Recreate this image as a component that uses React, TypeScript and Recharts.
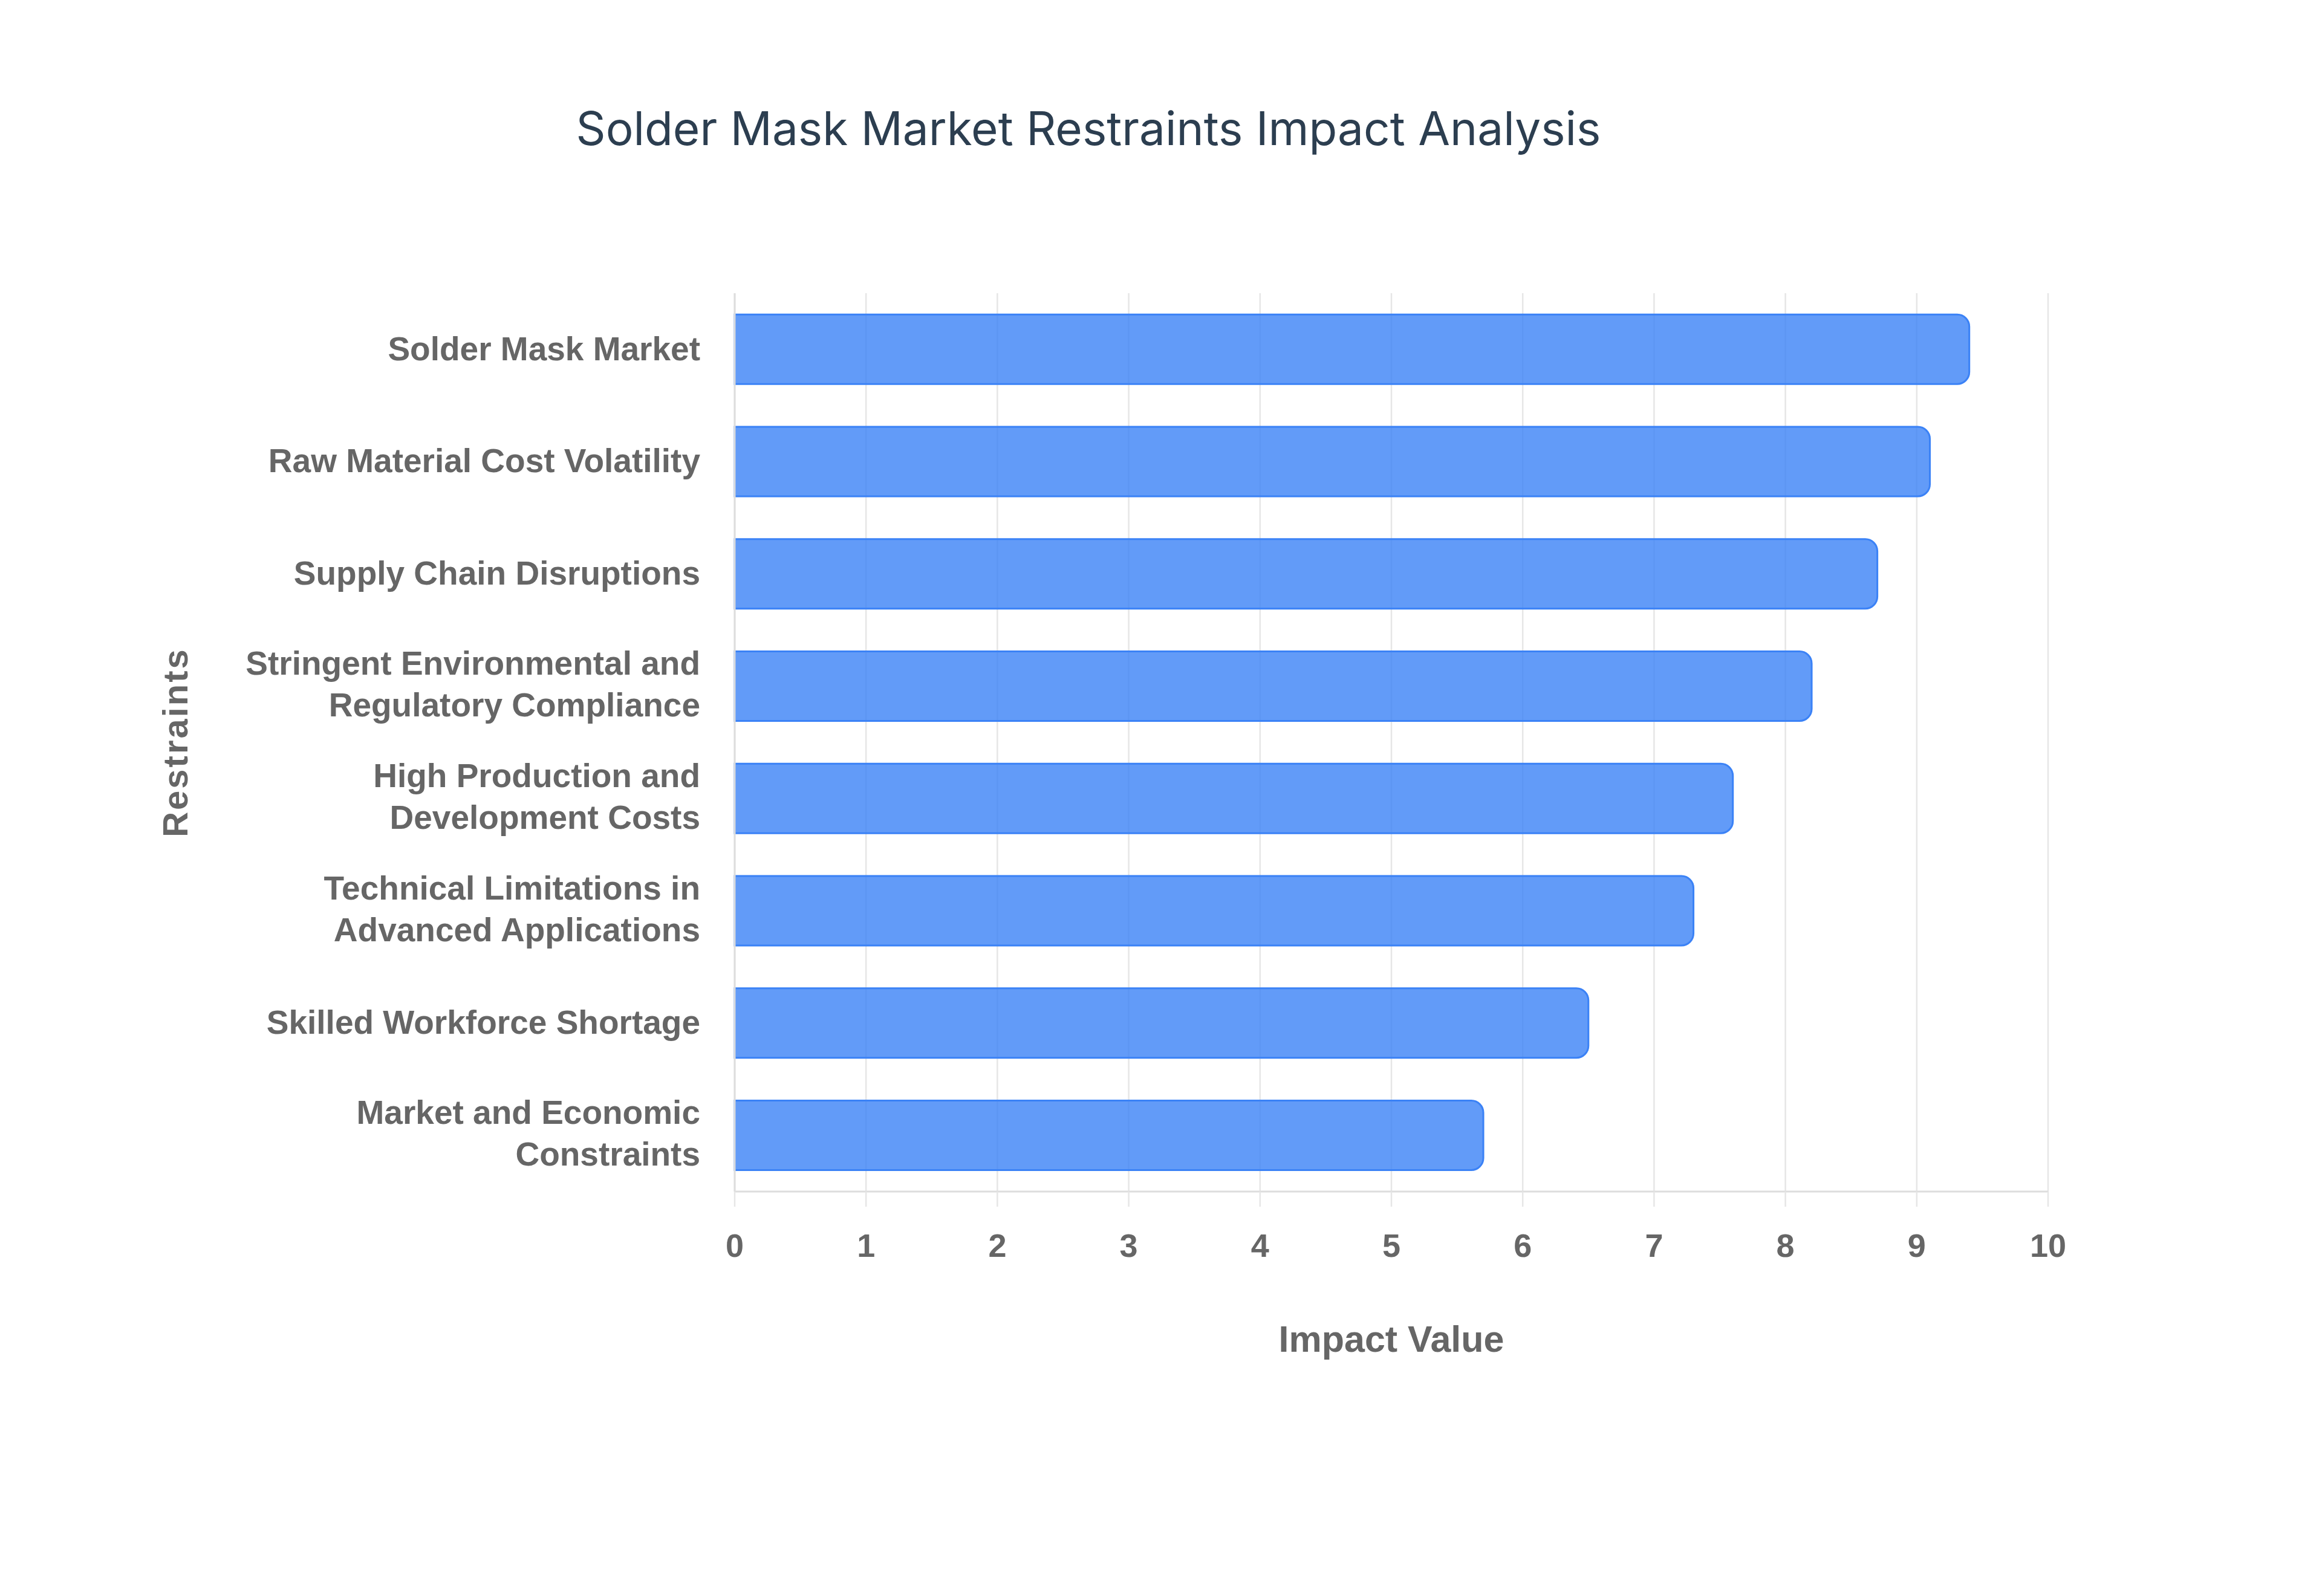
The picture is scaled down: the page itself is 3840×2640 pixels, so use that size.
import { BarChart, Bar, XAxis, YAxis, CartesianGrid, Label } from 'recharts';

const restraints = [
  'Solder Mask Market',
  'Raw Material Cost Volatility',
  'Supply Chain Disruptions',
  'Stringent Environmental and Regulatory Compliance',
  'High Production and Development Costs',
  'Technical Limitations in Advanced Applications',
  'Skilled Workforce Shortage',
  'Market and Economic Constraints',
];

const impactValues = [9.4, 9.1, 8.7, 8.2, 7.6, 7.3, 6.5, 5.7];

const xTicks = [0, 1, 2, 3, 4, 5, 6, 7, 8, 9, 10];

const chartData = restraints.map((name, i) => ({ name, impact: impactValues[i] }));

const labelFont = '"Liberation Sans", Arial, sans-serif';
const gray = '#666666';

// greedy wrap, about 28 characters per line
const wrapLabel = (text: string, max = 28) => {
  const words = text.split(' ');
  const lines: string[] = [];
  let cur = '';
  words.forEach((w) => {
    const next = cur ? cur + ' ' + w : w;
    if (next.length > max && cur) {
      lines.push(cur);
      cur = w;
    } else {
      cur = next;
    }
  });
  if (cur) lines.push(cur);
  return lines;
};

const RestraintTick = (props: any) => {
  const { x, y, payload } = props;
  const lines = wrapLabel(String(payload.value));
  const fs = 55;
  const lineH = 69;
  const startDy = -((lines.length - 1) * lineH) / 2 + 0.36 * fs - (lines.length > 1 ? 4 : 2);
  return (
    <text
      x={x}
      y={y}
      textAnchor="end"
      fontFamily={labelFont}
      fontWeight={700}
      fontSize={fs}
      fill={gray}
    >
      {lines.map((ln, i) => (
        <tspan key={i} x={x} dy={i === 0 ? startDy : lineH}>
          {ln}
        </tspan>
      ))}
    </text>
  );
};

const App = () => {
  return (
    <div style={{ position: 'absolute', left: 0, top: 0, width: 3840, height: 2640, background: '#ffffff' }}>
      <svg width={3840} height={300} style={{ position: 'absolute', left: 0, top: 0 }}>
        <text
          x={1800}
          y={240}
          textAnchor="middle"
          fontFamily="Inter, 'Noto Sans', sans-serif"
          fontSize={76.5}
          fill="#2c3e50"
        >
          Solder Mask Market Restraints Impact Analysis
        </text>
      </svg>
      <div style={{ position: 'absolute', left: 0, top: 0 }}>
        <BarChart
          width={3840}
          height={2640}
          data={chartData}
          layout="vertical"
          barCategoryGap="19%"
          margin={{ top: 485, right: 453, bottom: 369, left: 15 }}
        >
          <CartesianGrid horizontal={false} stroke="#e6e6e6" strokeWidth={2.5} />
          <XAxis
            type="number"
            domain={[0, 10]}
            ticks={xTicks}
            height={300}
            axisLine={{ stroke: '#dddddd', strokeWidth: 3 }}
            tickLine={{ stroke: '#e6e6e6', strokeWidth: 2.5 }}
            tickSize={25}
            tickMargin={45}
            tick={{ fontFamily: labelFont, fontWeight: 700, fontSize: 54, fill: gray }}
          >
            <Label
              content={(p: any) => {
                const vb = p.viewBox;
                return (
                  <text
                    x={vb.x + vb.width / 2}
                    y={2236}
                    textAnchor="middle"
                    fontFamily={labelFont}
                    fontWeight={700}
                    fontSize={61}
                    fill={gray}
                  >
                    Impact Value
                  </text>
                );
              }}
            />
          </XAxis>
          <YAxis
            type="category"
            dataKey="name"
            width={1200}
            axisLine={{ stroke: '#dddddd', strokeWidth: 3 }}
            tickLine={false}
            tickSize={0}
            tickMargin={57}
            interval={0}
            tick={<RestraintTick />}
          >
            <Label
              content={(p: any) => {
                const vb = p.viewBox;
                const cy = vb.y + vb.height / 2;
                return (
                  <text
                    x={289}
                    y={cy}
                    transform={`rotate(-90, 289, ${cy})`}
                    textAnchor="middle"
                    dominantBaseline="central"
                    fontFamily={labelFont}
                    fontWeight={700}
                    fontSize={58}
                    letterSpacing={3}
                    fill={gray}
                  >
                    Restraints
                  </text>
                );
              }}
            />
          </YAxis>
          <Bar
            dataKey="impact"
            fill="#3b82f6"
            fillOpacity={0.8}
            stroke="#3b82f6"
            strokeWidth={3}
            radius={[0, 20, 20, 0]}
            isAnimationActive={false}
          />
        </BarChart>
      </div>
    </div>
  );
};

export default App;
